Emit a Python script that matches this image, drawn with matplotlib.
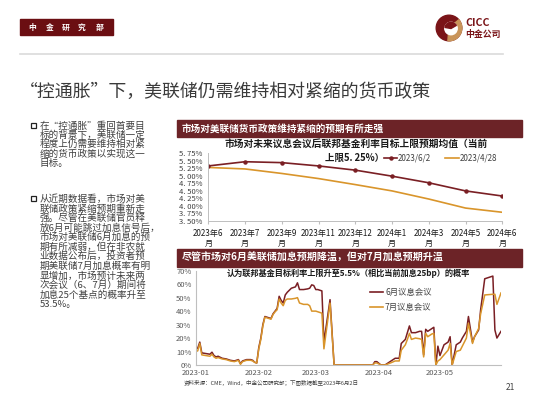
import matplotlib
matplotlib.use('Agg')
import matplotlib.pyplot as plt
import matplotlib.dates as mdates
from matplotlib.patches import Rectangle, Circle, Wedge
import pandas as pd

plt.rcParams['font.family'] = ['Noto Sans CJK SC', 'DejaVu Sans']

# ---------------- data ----------------
meetings = ['2023年6\n月', '2023年7\n月', '2023年9\n月', '2023年11\n月', '2023年12\n月',
            '2024年1\n月', '2024年3\n月', '2024年5\n月', '2024年6\n月']
exp_0602 = [5.33, 5.47, 5.44, 5.33, 5.19, 4.99, 4.77, 4.50, 4.33]
exp_0428 = [5.28, 5.23, 5.08, 4.91, 4.71, 4.50, 4.23, 3.93, 3.79]
rate_ticks = [3.50, 3.75, 4.00, 4.25, 4.50, 4.75, 5.00, 5.25, 5.50, 5.75]
rate_labels = ['3. 50%', '3. 75%', '4. 00%', '4. 25%', '4. 50%', '4. 75%',
               '5. 00%', '5. 25%', '5. 50%', '5. 75%']

prob_dates = ['2023-01-01', '2023-01-02', '2023-01-03', '2023-01-04', '2023-01-06', '2023-01-08',
              '2023-01-09', '2023-01-10', '2023-01-11', '2023-01-12', '2023-01-14', '2023-01-16',
              '2023-01-18', '2023-01-20', '2023-01-22', '2023-01-23', '2023-01-24', '2023-01-26',
              '2023-01-28', '2023-01-29', '2023-01-30', '2023-01-31', '2023-02-01', '2023-02-02',
              '2023-02-03', '2023-02-04', '2023-02-06', '2023-02-07', '2023-02-08', '2023-02-09',
              '2023-02-10', '2023-02-11', '2023-02-12', '2023-02-13', '2023-02-14', '2023-02-15',
              '2023-02-17', '2023-02-19', '2023-02-20', '2023-02-21', '2023-02-23', '2023-02-25',
              '2023-02-26', '2023-02-27', '2023-02-28', '2023-03-01', '2023-03-02', '2023-03-03',
              '2023-03-04', '2023-03-05', '2023-03-08', '2023-03-10', '2023-03-29', '2023-03-30',
              '2023-03-31', '2023-04-02', '2023-04-04', '2023-04-05', '2023-04-07', '2023-04-09',
              '2023-04-11', '2023-04-12', '2023-04-14', '2023-04-15', '2023-04-16', '2023-04-17',
              '2023-04-19', '2023-04-21', '2023-04-22', '2023-04-23', '2023-04-24', '2023-04-25',
              '2023-04-27', '2023-04-28', '2023-04-29', '2023-04-30', '2023-05-01', '2023-05-03',
              '2023-05-05', '2023-05-06', '2023-05-07', '2023-05-09', '2023-05-11', '2023-05-12',
              '2023-05-14', '2023-05-15', '2023-05-17', '2023-05-18', '2023-05-20', '2023-05-21',
              '2023-05-23', '2023-05-27', '2023-05-28', '2023-05-29', '2023-05-31']
prob_jun = [12, 12.5, 17, 9, 8.5, 8, 9.5, 7, 6, 6.5, 5, 4.5,
            3.5, 3, 4, 1, 3, 4, 4, 3.5, 2, 1.5, 13, 20,
            30, 36, 35, 34.5, 38, 40, 42, 51, 48, 46, 52, 54,
            57, 58, 61, 56, 56, 56.5, 57, 59.5, 59, 56, 56, 55.5,
            55, 17, 48.5, 0, 0, 2.5, 2.5, 0, 0, 1, 3, 5,
            5, 16, 19, 24, 29, 24, 24, 25, 25, 7.5, 26.5, 25,
            27, 28, 0, 14, 7, 15, 17, 21, 0, 15, 17, 20,
            25, 36, 17, 21, 26, 41, 64, 66, 26, 20, 25]
prob_jul = [10, 10.5, 16, 7.5, 7, 6.5, 8, 6, 5, 5.5, 4.5, 4,
            3, 2.5, 3.5, 0.5, 2.5, 3.5, 3.5, 3, 2, 1.5, 12, 19,
            29, 35.5, 34.5, 34, 37.5, 39.5, 41, 49, 46, 44, 48, 49,
            49, 49.5, 50, 46, 45, 45, 44, 40, 40, 40, 39.5, 39,
            38.5, 12, 46, 0, 0, 1.5, 1.5, 0, 0, 0.5, 1.7, 3,
            3, 11, 15, 19, 23.5, 19, 20, 19.5, 19, 6, 23.5, 21,
            23, 23.5, 0, 3, 4, 7.5, 11, 16, 0, 10, 11, 14,
            20, 31, 16, 21, 27, 38, 52, 52.5, 52.5, 45, 53.5]
prob_ticks = [0, 10, 20, 30, 40, 50, 60, 70]
month_ticks = ['2023-01-01', '2023-02-01', '2023-03-01', '2023-04-01', '2023-05-01']
month_labels = ['2023-01', '2023-02', '2023-03', '2023-04', '2023-05']

bullet1 = ['在“控通胀”重回首要目', '标的背景下，美联储一定', '程度上仍需要维持相对紧',
           '缩的货币政策以实现这一', '目标。']
bullet2 = ['从近期数据看，市场对美', '联储政策紧缩预期重新走', '强。尽管在美联储官员释',
           '放6月可能跳过加息信号后，', '市场对美联储6月加息的预', '期有所减弱，但在非农就',
           '业数据公布后，投资者预', '期美联储7月加息概率有明', '显增加，市场预计未来两',
           '次会议（6、7月）期间将', '加息25个基点的概率升至', '53.5%。']

# ---------------- style ----------------
DARK = '#7A1F24'
GOLD = '#D9952B'
BAR = '#6C2327'
TXT = '#404040'
W, H = 550, 413

fig = plt.figure(figsize=(5.5, 4.13), dpi=100)
fig.patch.set_facecolor('white')

bg = fig.add_axes([0, 0, 1, 1], zorder=0)
bg.set_xlim(0, W)
bg.set_ylim(H, 0)
bg.axis('off')


def rect_px(x0, y0, x1, y1):
    return [x0 / W, 1 - y1 / H, (x1 - x0) / W, (y1 - y0) / H]


# header
bg.add_patch(Rectangle((20, 19), 93, 16, color='#6B0E12'))
for ch, cx in zip('中金研究部', [31.7, 49.3, 65.5, 82, 100]):
    bg.text(cx, 27.3, ch, color='white', fontsize=5.6, fontweight='bold', ha='center', va='center')
# logo
bg.add_patch(Circle((449, 28), 12.8, color='#7A1418'))
bg.add_patch(Wedge((449, 28), 12.8, -40, 95, color='#C9955A'))
bg.add_patch(Circle((451, 28.5), 6.2, color='white'))
bg.add_patch(Wedge((451, 28.5), 6.2, 190, 330, color='#7A1418'))
bg.text(465, 23, 'CICC', color='#7A1418', fontsize=7.6, fontweight='bold', va='center', ha='left')
bg.text(465, 34, '中金公司', color='#7A1418', fontsize=6.4, fontweight='bold', va='center', ha='left')
bg.plot([20, 503], [53.5, 53.5], color='#DADADA', lw=1.2)

# title
bg.text(20, 91.5, '“控通胀”下，美联储仍需维持相对紧缩的货币政策', color='#3A3A3A',
        fontsize=12.9, va='center', ha='left')

# bullets
bg.add_patch(Rectangle((30.5, 122.8), 5.5, 5.2, fill=False, ec='#222222', lw=0.9))
bg.add_patch(Rectangle((30.5, 196.2), 5.5, 5.2, fill=False, ec='#222222', lw=0.9))
for i, s in enumerate(bullet1):
    bg.text(39.5, 125.7 + i * 9.45, s, fontsize=6.9, color=TXT, va='center', ha='left')
for i, s in enumerate(bullet2):
    bg.text(39.5, 199 + i * 9.6, s, fontsize=6.9, color=TXT, va='center', ha='left')

# section bars
bg.add_patch(Rectangle((177, 120), 345, 17, color=BAR))
bg.text(182, 128.5, '市场对美联储货币政策维持紧缩的预期有所走强', color='white', fontsize=6.9,
        fontweight='bold', va='center', ha='left')
bg.add_patch(Rectangle((177, 249), 345, 18, color=BAR))
bg.text(182, 258, '尽管市场对6月美联储加息预期降温，但对7月加息预期升温', color='white', fontsize=7.2,
        fontweight='bold', va='center', ha='left')

# chart 1 titles / legend
bg.text(356, 144, '市场对未来议息会议后联邦基金利率目标上限预期均值（当前', fontsize=7, fontweight='bold',
        color='#1A1A1A', ha='center', va='center')
bg.text(384, 158, '上限5. 25%）', fontsize=6.8, fontweight='bold', color='#1A1A1A', ha='right', va='center')
bg.plot([384, 397], [158, 158], color=DARK, lw=1.2)
bg.plot([390.5], [158], marker='o', ms=2.2, color=DARK)
bg.text(398, 158, '2023/6/2', fontsize=5.8, color=TXT, ha='left', va='center')
bg.plot([445, 459], [158, 158], color=GOLD, lw=1.2)
bg.text(460, 158, '2023/4/28', fontsize=5.8, color=TXT, ha='left', va='center')

# chart 2 title / legend
bg.text(348, 273.5, '认为联邦基金目标利率上限升至5.5%（相比当前加息25bp）的概率', fontsize=5.9,
        fontweight='bold', color='#1A1A1A', ha='center', va='center')
bg.plot([370, 383], [292, 292], color=DARK, lw=1.2)
bg.text(385, 292, '6月议息会议', fontsize=6, color=TXT, ha='left', va='center')
bg.plot([370, 383], [307, 307], color=GOLD, lw=1.2)
bg.text(385, 307, '7月议息会议', fontsize=6, color=TXT, ha='left', va='center')

# footer
bg.text(184, 383, '资料来源：CME，Wind，中金公司研究部；下图数据截至2023年6月2日', fontsize=4,
        color=TXT, ha='left', va='center')
bg.text(510, 387, '21', fontsize=6, color=TXT, ha='center', va='center')

# ---------------- chart 1 ----------------
ax1 = fig.add_axes(rect_px(208.3, 153.3, 502.3, 221), zorder=2)
ax1.patch.set_alpha(0)
x = list(range(len(meetings)))
ax1.plot(x, exp_0428, color=GOLD, lw=1.2)
ax1.plot(x, exp_0602, color=DARK, lw=1.2, marker='o', ms=2.2)
ax1.set_xlim(0, len(meetings) - 1)
ax1.set_ylim(rate_ticks[0], rate_ticks[-1])
ax1.set_yticks(rate_ticks)
ax1.set_yticklabels(rate_labels)
ax1.set_xticks(x)
ax1.set_xticklabels(meetings)
ax1.tick_params(axis='y', labelsize=5.5, labelcolor=TXT, length=0, pad=4)
ax1.tick_params(axis='x', labelsize=5.8, labelcolor='#1A1A1A', length=2.5, color='#BFBFBF', pad=3)
for s in ['top', 'right']:
    ax1.spines[s].set_visible(False)
for s in ['left', 'bottom']:
    ax1.spines[s].set_color('#BFBFBF')
    ax1.spines[s].set_linewidth(0.7)

# ---------------- chart 2 ----------------
ax2 = fig.add_axes(rect_px(195.7, 270.7, 501, 365), zorder=2)
ax2.patch.set_alpha(0)
dts = pd.to_datetime(prob_dates)
ax2.plot(dts, prob_jun, color=DARK, lw=1.1)
ax2.plot(dts, prob_jul, color=GOLD, lw=1.1)
ax2.set_xlim(pd.Timestamp('2023-01-01'), pd.Timestamp('2023-05-31'))
ax2.set_ylim(prob_ticks[0], prob_ticks[-1])
ax2.set_yticks(prob_ticks)
ax2.set_yticklabels([f'{v}%' for v in prob_ticks])
ax2.set_xticks(pd.to_datetime(month_ticks))
ax2.set_xticklabels(month_labels)
ax2.tick_params(axis='y', labelsize=5.5, labelcolor='#595959', length=0, pad=3)
ax2.tick_params(axis='x', labelsize=5.5, labelcolor='#595959', length=0, pad=3)
for s in ['top', 'right']:
    ax2.spines[s].set_visible(False)
for s in ['left', 'bottom']:
    ax2.spines[s].set_color('#BFBFBF')
    ax2.spines[s].set_linewidth(0.8)

fig.savefig('out.png', dpi=100)
